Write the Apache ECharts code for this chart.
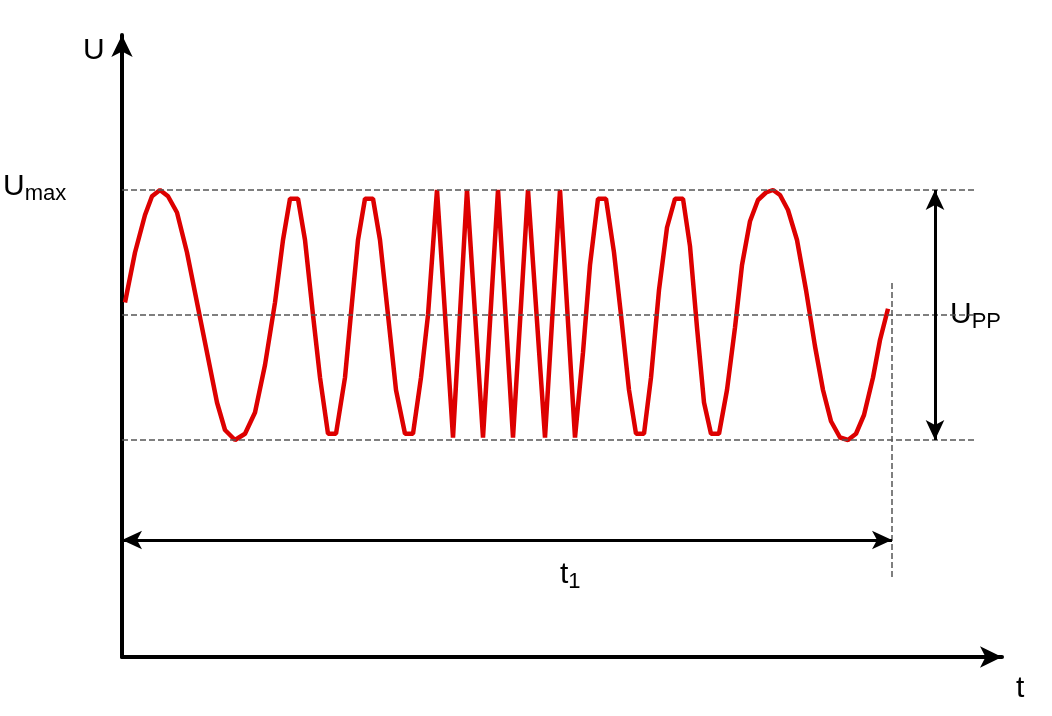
<!DOCTYPE html>
<html><head><meta charset="utf-8">
<script src="https://cdn.jsdelivr.net/npm/echarts@6/dist/echarts.min.js"></script>
<style>html,body{margin:0;padding:0;background:#fff}#c{width:1052px;height:716px}</style>
</head><body><div id="c"></div>
<script>
// sample positions along t (pixel-like units, axis origin offset T0)
const T0 = 122;
const tPix = [125,135,145,152,160,168,177,187,197,207,217,225,235,245,255,265,275,283,290,298,305,313,320,328,336,345,352,358,365,373,380,388,396,405,413,421,428,437,453,467,483,498,513,528,545,560,575,583,590,598,606,614,621,629,636,644,651,659,667,675,683,690,697,704,711,719,727,735,742,750,758,766,773,780,788,797,806,815,823,831,840,848,856,864,873,880,888];
const uVals = [0.1,0.5,0.8,0.95,1.0,0.95,0.82,0.5,0.1,-0.3,-0.7,-0.92,-1,-0.95,-0.78,-0.4,0.1,0.6,0.93,0.93,0.6,0.0,-0.5,-0.95,-0.95,-0.5,0.1,0.6,0.93,0.93,0.6,0.0,-0.6,-0.95,-0.95,-0.5,0.0,1,-0.98,1,-0.98,1,-0.98,1,-0.98,1,-0.98,-0.3,0.4,0.93,0.93,0.5,0.0,-0.6,-0.95,-0.95,-0.5,0.2,0.7,0.93,0.93,0.55,-0.1,-0.7,-0.95,-0.95,-0.6,-0.1,0.4,0.75,0.92,0.98,1,0.96,0.84,0.6,0.2,-0.25,-0.6,-0.85,-0.98,-1,-0.95,-0.8,-0.5,-0.2,0.05];
const levels = [1, 0, -1];
const levelEnd = 853;
const t1End = 770;
const arrowY = -1.8;
const uppX = 813;

const chart = echarts.init(document.getElementById('c'));
const dashed = {type:'dashed', color:'#555', width:1.5, dashOffset:0};
chart.setOption({
  animation:false,
  grid:{left:122,right:50,top:35,bottom:59},
  xAxis:{type:'value',min:0,max:880,splitLine:{show:false},axisTick:{show:false},axisLabel:{show:false},
    axisLine:{onZero:false,lineStyle:{color:'#000',width:4},symbol:['none','arrow'],symbolSize:[16,22]}},
  yAxis:{type:'value',min:-2.736,max:2.24,splitLine:{show:false},axisTick:{show:false},axisLabel:{show:false},
    axisLine:{onZero:false,lineStyle:{color:'#000',width:4},symbol:['none','arrow'],symbolSize:[16,22]}},
  series:[
    {type:'line',data:tPix.map((x,i)=>[x-T0,uVals[i]]),showSymbol:false,
     lineStyle:{color:'#dd0000',width:4.5},
     markLine:{silent:true,symbol:'none',label:{show:false},data:[
       ...levels.map(v=>[{coord:[0,v],lineStyle:dashed},{coord:[levelEnd,v]}]),
       [{coord:[t1End,0.256],lineStyle:dashed},{coord:[t1End,-2.1]}]
     ]}},
    {type:'line',data:[],markLine:{silent:true,symbol:['arrow','arrow'],symbolSize:[14,20],label:{show:false},
      lineStyle:{type:'solid',color:'#000',width:3},data:[
        [{coord:[0,arrowY]},{coord:[t1End,arrowY]}],
        [{coord:[uppX,1]},{coord:[uppX,-1]}]
      ]}}
  ],
  graphic:[
    {type:'text',left:83,top:36,style:{text:'U',font:'30px "Liberation Sans"',fill:'#000'}},
    {type:'text',left:3,top:172,style:{text:'{a|U}{b|max}',rich:{a:{font:'30px "Liberation Sans"',fill:'#000'},b:{font:'22px "Liberation Sans"',fill:'#000',verticalAlign:'bottom',padding:[14,0,0,0]}}}},
    {type:'text',left:950,top:300,style:{text:'{a|U}{b|PP}',rich:{a:{font:'30px "Liberation Sans"',fill:'#000'},b:{font:'22px "Liberation Sans"',fill:'#000',padding:[14,0,0,0]}}}},
    {type:'text',left:560,top:560,style:{text:'{a|t}{b|1}',rich:{a:{font:'30px "Liberation Sans"',fill:'#000'},b:{font:'22px "Liberation Sans"',fill:'#000',padding:[14,0,0,0]}}}},
    {type:'text',left:1016,top:674,style:{text:'t',font:'30px "Liberation Sans"',fill:'#000'}}
  ]
});
</script></body></html>
